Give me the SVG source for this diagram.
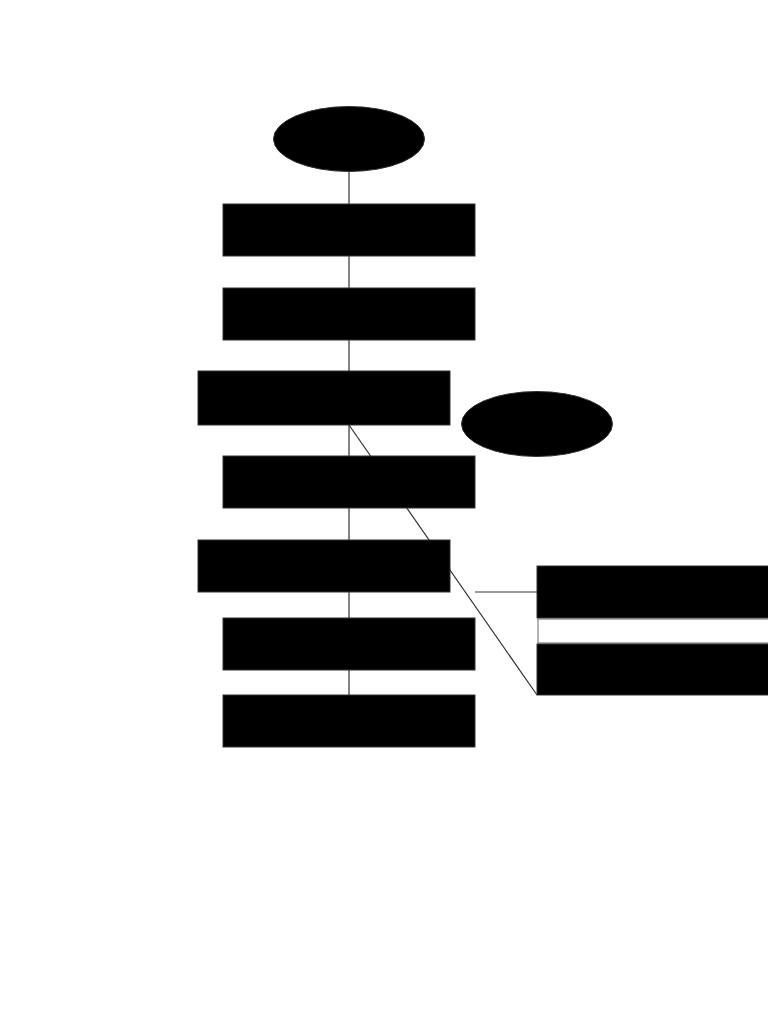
<svg xmlns="http://www.w3.org/2000/svg" width="768" height="1024" viewBox="0 0 768 1024">
<style>
.n{fill:#000;stroke:#333;stroke-width:1}
.c{stroke:#333;stroke-width:1.2;fill:none}
</style>
<rect width="768" height="1024" fill="#fff"/>
<g id="connectors">
<line class="c" x1="349" y1="172" x2="349" y2="695"/>
<line class="c" x1="349" y1="425" x2="537" y2="695"/>
<line class="c" x1="475" y1="592" x2="537" y2="592"/>
</g>
<g id="start"><ellipse class="n" cx="349" cy="139" rx="75.5" ry="32.5"/></g>
<g id="n1"><rect class="n" x="223" y="204" width="252" height="52"/></g>
<g id="n2"><rect class="n" x="223" y="288" width="252" height="52"/></g>
<g id="n3"><rect class="n" x="198" y="371" width="252" height="54"/></g>
<g id="side"><ellipse class="n" cx="537" cy="424" rx="75.5" ry="32.5"/></g>
<g id="n4"><rect class="n" x="223" y="456" width="252" height="52"/></g>
<g id="n5"><rect class="n" x="198" y="540" width="252" height="52"/></g>
<g id="n6"><rect class="n" x="223" y="618" width="252" height="52"/></g>
<g id="n7"><rect class="n" x="223" y="695" width="252" height="52"/></g>
<g id="r1"><rect class="n" x="537" y="566" width="240" height="52"/></g>
<g id="r2"><rect fill="#fff" stroke="#666" stroke-width="1" x="538" y="619" width="240" height="24"/></g>
<g id="r3"><rect class="n" x="537" y="644" width="240" height="51"/></g>
</svg>
